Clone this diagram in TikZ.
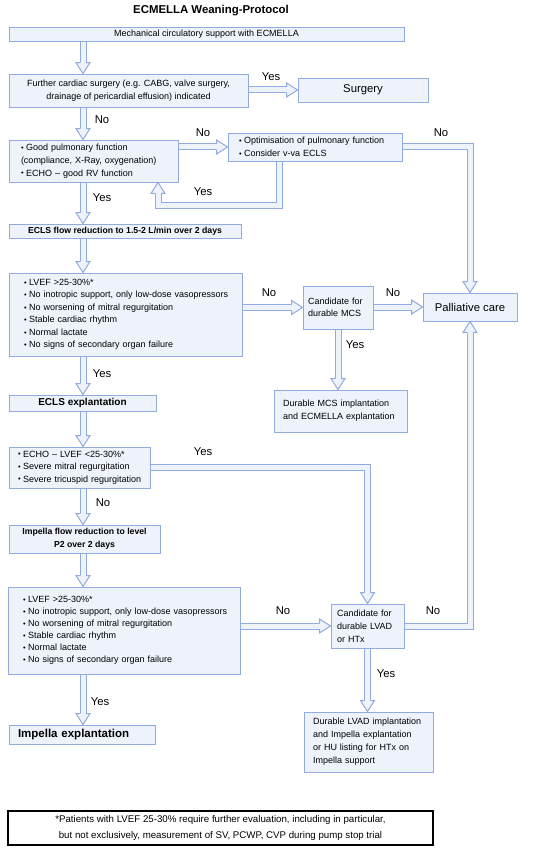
\documentclass[tikz,border=0pt]{standalone}
\usepackage{fontspec}
\setmainfont{Liberation Sans}
\usetikzlibrary{calc,backgrounds}
\definecolor{bordc}{RGB}{146,171,222}
\definecolor{fillc}{RGB}{237,242,251}
\newcommand\bul{\raisebox{0.3pt}{\fontsize{7.5}{7.5}\selectfont •}\hspace{2.4pt}}
\newcommand\lin[1]{\mbox{#1}}
\newcommand\hhead[2]{%
  \path ($(#2)!11pt!(#1)$) coordinate (hb);
  \path ($(hb)!7pt!90:(#2)$) coordinate (hl)
        ($(hb)!7pt!-90:(#2)$) coordinate (hr)
        ($(hb)!3pt!90:(#2)$) coordinate (sl)
        ($(hb)!3pt!-90:(#2)$) coordinate (sr);
  \fill[fillc] (hl) -- (#2) -- (hr) -- cycle;
  \draw[aline] (sl) -- (hl) -- (#2) -- (hr) -- (sr);
}
\newcommand\harrow[2]{%
  \draw[flow] (#1) -- ($(#2)!11pt!(#1)$);
  \hhead{#1}{#2}}
\newcommand\barrow[3]{%
  \draw[flow] (#1) -- (#2) -- ($(#3)!11pt!(#2)$);
  \hhead{#2}{#3}}
\begin{document}
\begin{tikzpicture}[x=1pt,y=-1pt,
  box/.style={draw=bordc, fill=fillc, line width=0.9pt, inner ysep=0pt, inner xsep=2pt, font=\fontsize{9}{12.5}\selectfont},
  cb/.style 2 args={box, minimum width=#1, minimum height=#2, align=center},
  lb/.style n args={3}{box, minimum width=#1, minimum height=#2, inner xsep=#3, text width=#1-2*#3, align=left},
  flow/.style={draw=bordc, double=fillc, double distance=5pt, line width=1pt, line join=miter, line cap=butt},
  aline/.style={draw=bordc, line width=1pt, line join=miter},
  lab/.style={font=\fontsize{11.3}{13}\selectfont, inner sep=0pt},
  big/.style={font=\fontsize{11.3}{13}\selectfont},
  bsmall/.style={font=\bfseries\fontsize{8.7}{13.3}\selectfont}
]
\useasboundingbox (0,0) rectangle (550,850);

\node[inner sep=0pt, font=\bfseries\fontsize{11.4}{13}\selectfont] (title) at (211,11) {ECMELLA Weaning-Protocol};

\node[cb={395pt}{14pt}] (mcs) at (206.5,34) {Mechanical circulatory support with ECMELLA};
\node[cb={239pt}{33pt}, font=\fontsize{9}{13.3}\selectfont] (further) at (128.5,90.5) {Further cardiac surgery (e.g. CABG, valve surgery,\\drainage of pericardial effusion) indicated};
\node[cb={130pt}{24pt}, big] (surgery) at (363,90) {Surgery};
\node[lb={169pt}{42pt}{12pt}, font=\fontsize{9}{12.8}\selectfont] (pulm) at (93.5,161) {\lin{\bul Good pulmonary function}\\\lin{(compliance, X-Ray, oxygenation)}\\\lin{\bul ECHO – good RV function}};
\node[lb={174pt}{28pt}{11pt}, font=\fontsize{9}{12.7}\selectfont] (optim) at (315,147) {\lin{\bul Optimisation of pulmonary function}\\\lin{\bul Consider v-va ECLS}};
\node[cb={232pt}{14pt}, bsmall] (eclsflow) at (125,231) {ECLS flow reduction to 1.5-2 L/min over 2 days};
\node[lb={233pt}{83pt}{15pt}] (lvef1) at (125.5,314.5) {\lin{\bul LVEF >25-30\%*}\\\lin{\bul No inotropic support, only low-dose vasopressors}\\\lin{\bul No worsening of mitral regurgitation}\\\lin{\bul Stable cardiac rhythm}\\\lin{\bul Normal lactate}\\\lin{\bul No signs of secondary organ failure}};
\node[lb={70pt}{43pt}{5pt}, font=\fontsize{9}{12.3}\selectfont] (candmcs) at (338,307.5) {\lin{Candidate for}\\\lin{durable MCS}};
\node[cb={94pt}{28pt}, big] (pall) at (470,307) {Palliative care};
\node[cb={147pt}{16pt}, font=\bfseries\fontsize{10}{12}\selectfont] (eclsexp) at (82.5,403) {ECLS explantation};
\node[lb={133pt}{42pt}{9pt}, font=\fontsize{9}{12.7}\selectfont] (durmcs) at (340.5,411) {\lin{Durable MCS implantation}\\\lin{and ECMELLA explantation}};
\node[lb={141pt}{41pt}{9pt}] (echo) at (79.5,467.5) {\lin{\bul ECHO – LVEF <25-30\%*}\\\lin{\bul Severe mitral regurgitation}\\\lin{\bul Severe tricuspid regurgitation}};
\node[cb={151pt}{28pt}, bsmall] (impflow) at (84.5,539) {Impella flow reduction to level\\P2 over 2 days};
\node[lb={232pt}{87pt}{15pt}, font=\fontsize{9}{12.1}\selectfont] (lvef2) at (124,630.5) {\lin{\bul LVEF >25-30\%*}\\\lin{\bul No inotropic support, only low-dose vasopressors}\\\lin{\bul No worsening of mitral regurgitation}\\\lin{\bul Stable cardiac rhythm}\\\lin{\bul Normal lactate}\\\lin{\bul No signs of secondary organ failure}};
\node[lb={73pt}{44pt}{6pt}, font=\fontsize{9}{13}\selectfont] (candlvad) at (367.5,626) {\lin{Candidate for}\\\lin{durable LVAD}\\\lin{or HTx}};
\node[lb={146pt}{19pt}{9pt}, font=\bfseries\fontsize{11.5}{13}\selectfont] (impexp) at (82,734.5) {\lin{Impella explantation}};
\node[lb={129pt}{60pt}{9pt}, font=\fontsize{9}{13}\selectfont] (durlvad) at (368.5,742) {\lin{Durable LVAD implantation}\\\lin{and Impella explantation}\\\lin{or HU listing for HTx on}\\\lin{Impella support}};
\node[draw=black, fill=white, line width=1.2pt, minimum width=425pt, minimum height=34pt, inner sep=0pt, align=center, font=\fontsize{9.7}{15.5}\selectfont] (foot) at (220.5,828) {*Patients with LVEF 25-30\% require further evaluation, including in particular,\\but not exclusively, measurement of SV, PCWP, CVP during pump stop trial};

% labels
\node[lab] (l2) at (271,77) {Yes};
\node[lab] (l3) at (102,120) {No};
\node[lab] (l4) at (203,133) {No};
\node[lab] (l6) at (441,133) {No};
\node[lab] (l5) at (203,192) {Yes};
\node[lab] (l7) at (102,198) {Yes};
\node[lab] (l9) at (269,293) {No};
\node[lab] (l10) at (393,293) {No};
\node[lab] (l11) at (355,345) {Yes};
\node[lab] (l12) at (102,374) {Yes};
\node[lab] (l14) at (203,452) {Yes};
\node[lab] (l15) at (103,503) {No};
\node[lab] (l17) at (283,611) {No};
\node[lab] (l18) at (433,611) {No};
\node[lab] (l19) at (386,674) {Yes};
\node[lab] (l20) at (100,702) {Yes};

\coordinate (cx) at (83,0);
\coordinate (l5a) at (279,206);
\coordinate (l5b) at (158,206);

\begin{pgfonlayer}{background}
\fill[white] (0,0) rectangle (550,850);
% main column
\coordinate (a1s) at (mcs.south -| cx);      \coordinate (a1e) at (further.north -| cx);  \harrow{a1s}{a1e}
\coordinate (a3s) at (further.south -| cx);  \coordinate (a3e) at (pulm.north -| cx);     \harrow{a3s}{a3e}
\coordinate (a7s) at (pulm.south -| cx);     \coordinate (a7e) at (eclsflow.north -| cx); \harrow{a7s}{a7e}
\coordinate (a8s) at (eclsflow.south -| cx); \coordinate (a8e) at (lvef1.north -| cx);    \harrow{a8s}{a8e}
\coordinate (a12s) at (lvef1.south -| cx);   \coordinate (a12e) at (eclsexp.north -| cx); \harrow{a12s}{a12e}
\coordinate (a13s) at (eclsexp.south -| cx); \coordinate (a13e) at (echo.north -| cx);    \harrow{a13s}{a13e}
\coordinate (a15s) at (echo.south -| cx);    \coordinate (a15e) at (impflow.north -| cx); \harrow{a15s}{a15e}
\coordinate (a16s) at (impflow.south -| cx); \coordinate (a16e) at (lvef2.north -| cx);   \harrow{a16s}{a16e}
\coordinate (a20s) at (lvef2.south -| cx);   \coordinate (a20e) at (impexp.north -| cx);  \harrow{a20s}{a20e}
% horizontal
\coordinate (a2s) at (further.east |- surgery.west); \harrow{a2s}{surgery.west}
\coordinate (a4s) at (pulm.east |- optim.west);      \harrow{a4s}{optim.west}
\coordinate (a9s) at (lvef1.east |- candmcs.west);   \harrow{a9s}{candmcs.west}
\coordinate (a10s) at (candmcs.east |- pall.west);   \harrow{a10s}{pall.west}
\coordinate (a17s) at (lvef2.east |- candlvad.west); \harrow{a17s}{candlvad.west}
% vertical right
\coordinate (a11e) at (durmcs.north -| candmcs.south); \harrow{candmcs.south}{a11e}
\coordinate (a19e) at (durlvad.north -| candlvad.south); \harrow{candlvad.south}{a19e}
% routed
\coordinate (a5s) at (optim.south -| l5a); \coordinate (a5e) at (pulm.south -| l5b);
\draw[flow] (a5s) -- (l5a) -- (l5b) -- ($(a5e)!11pt!(l5b)$); \hhead{l5b}{a5e}
\coordinate (a6c) at (pall.north |- optim.east); \barrow{optim.east}{a6c}{pall.north}
\coordinate (a14c) at (candlvad.north |- echo.east); \barrow{echo.east}{a14c}{candlvad.north}
\coordinate (a18c) at (pall.south |- candlvad.east); \barrow{candlvad.east}{a18c}{pall.south}
\end{pgfonlayer}
\end{tikzpicture}
\end{document}
